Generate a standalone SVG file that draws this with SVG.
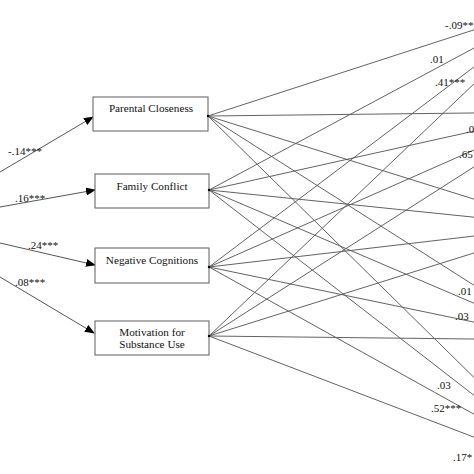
<svg xmlns="http://www.w3.org/2000/svg" width="474" height="474" viewBox="0 0 474 474">
<defs>
<style>
.box{fill:#fff;stroke:#6a6a6a;stroke-width:1.1}
.lbl{font-family:"Liberation Serif","Times New Roman",serif;font-size:11.2px;fill:#111}
.coef{font-family:"Liberation Serif","Times New Roman",serif;font-size:11px;fill:#111}
.ln{stroke:#5a5a5a;stroke-width:0.95;fill:none}
.ar{stroke:#555;stroke-width:1;fill:none}
</style>
<marker id="ah" markerWidth="10" markerHeight="8" refX="9" refY="4" orient="auto" markerUnits="userSpaceOnUse">
<path d="M0,0 L10,4 L0,8 Z" fill="#000"/>
</marker>
</defs>
<rect width="474" height="474" fill="#fff"/>
<g id="connectors">
<line class="ar" x1="0" y1="172" x2="93" y2="117" marker-end="url(#ah)"/>
<line class="ar" x1="0" y1="207" x2="95" y2="190" marker-end="url(#ah)"/>
<line class="ar" x1="0" y1="243" x2="95" y2="265" marker-end="url(#ah)"/>
<line class="ar" x1="0" y1="277" x2="94" y2="333" marker-end="url(#ah)"/>
<g id="from-pc">
<line class="ln" x1="208" y1="116" x2="560" y2="2"/>
<line class="ln" x1="208" y1="116" x2="560" y2="112"/>
<line class="ln" x1="208" y1="116" x2="560" y2="226"/>
<line class="ln" x1="208" y1="116" x2="560" y2="340"/>
<line class="ln" x1="208" y1="116" x2="560" y2="462"/>
</g>
<g id="from-fc">
<line class="ln" x1="209" y1="190" x2="560" y2="2"/>
<line class="ln" x1="209" y1="190" x2="560" y2="112"/>
<line class="ln" x1="209" y1="190" x2="560" y2="226"/>
<line class="ln" x1="209" y1="190" x2="560" y2="340"/>
<line class="ln" x1="209" y1="190" x2="560" y2="462"/>
</g>
<g id="from-nc">
<line class="ln" x1="209" y1="267" x2="560" y2="2"/>
<line class="ln" x1="209" y1="267" x2="560" y2="112"/>
<line class="ln" x1="209" y1="267" x2="560" y2="226"/>
<line class="ln" x1="209" y1="267" x2="560" y2="340"/>
<line class="ln" x1="209" y1="267" x2="560" y2="462"/>
</g>
<g id="from-mu">
<line class="ln" x1="209" y1="336" x2="560" y2="2"/>
<line class="ln" x1="209" y1="336" x2="560" y2="112"/>
<line class="ln" x1="209" y1="336" x2="560" y2="226"/>
<line class="ln" x1="209" y1="336" x2="560" y2="340"/>
<line class="ln" x1="209" y1="336" x2="560" y2="470"/>
</g>
</g>
<g id="parental-closeness">
<rect class="box" x="93" y="97" width="115" height="34"/>
<text class="lbl" x="151" y="112" text-anchor="middle">Parental Closeness</text>
<circle cx="208" cy="116" r="1.2" fill="#000"/>
</g>
<g id="family-conflict">
<rect class="box" x="95" y="174" width="114" height="34"/>
<text class="lbl" x="152" y="190" text-anchor="middle">Family Conflict</text>
<circle cx="209" cy="190" r="1.2" fill="#000"/>
</g>
<g id="negative-cognitions">
<rect class="box" x="95" y="248" width="114" height="35"/>
<text class="lbl" x="152" y="264" text-anchor="middle">Negative Cognitions</text>
<circle cx="209" cy="267" r="1.2" fill="#000"/>
</g>
<g id="motivation-substance-use">
<rect class="box" x="95" y="321" width="114" height="34"/>
<text class="lbl" x="152" y="336" text-anchor="middle">Motivation for</text>
<text class="lbl" x="152" y="348" text-anchor="middle">Substance Use</text>
<circle cx="209" cy="336" r="1.2" fill="#000"/>
</g>
<g id="labels">
<text class="coef" x="8" y="155">-.14***</text>
<text class="coef" x="15" y="202">.16***</text>
<text class="coef" x="28" y="249">.24***</text>
<text class="coef" x="15" y="286">.08***</text>
<text class="coef" x="445" y="29">-.09**</text>
<text class="coef" x="430" y="63">.01</text>
<text class="coef" x="435" y="86">.41***</text>
<text class="coef" x="466" y="133">.0</text>
<text class="coef" x="459" y="158">.65</text>
<text class="coef" x="458" y="295">.01</text>
<text class="coef" x="455" y="320">.03</text>
<text class="coef" x="437" y="389">.03</text>
<text class="coef" x="431" y="412">.52***</text>
<text class="coef" x="453" y="461">.17*</text>
</g>
</svg>
